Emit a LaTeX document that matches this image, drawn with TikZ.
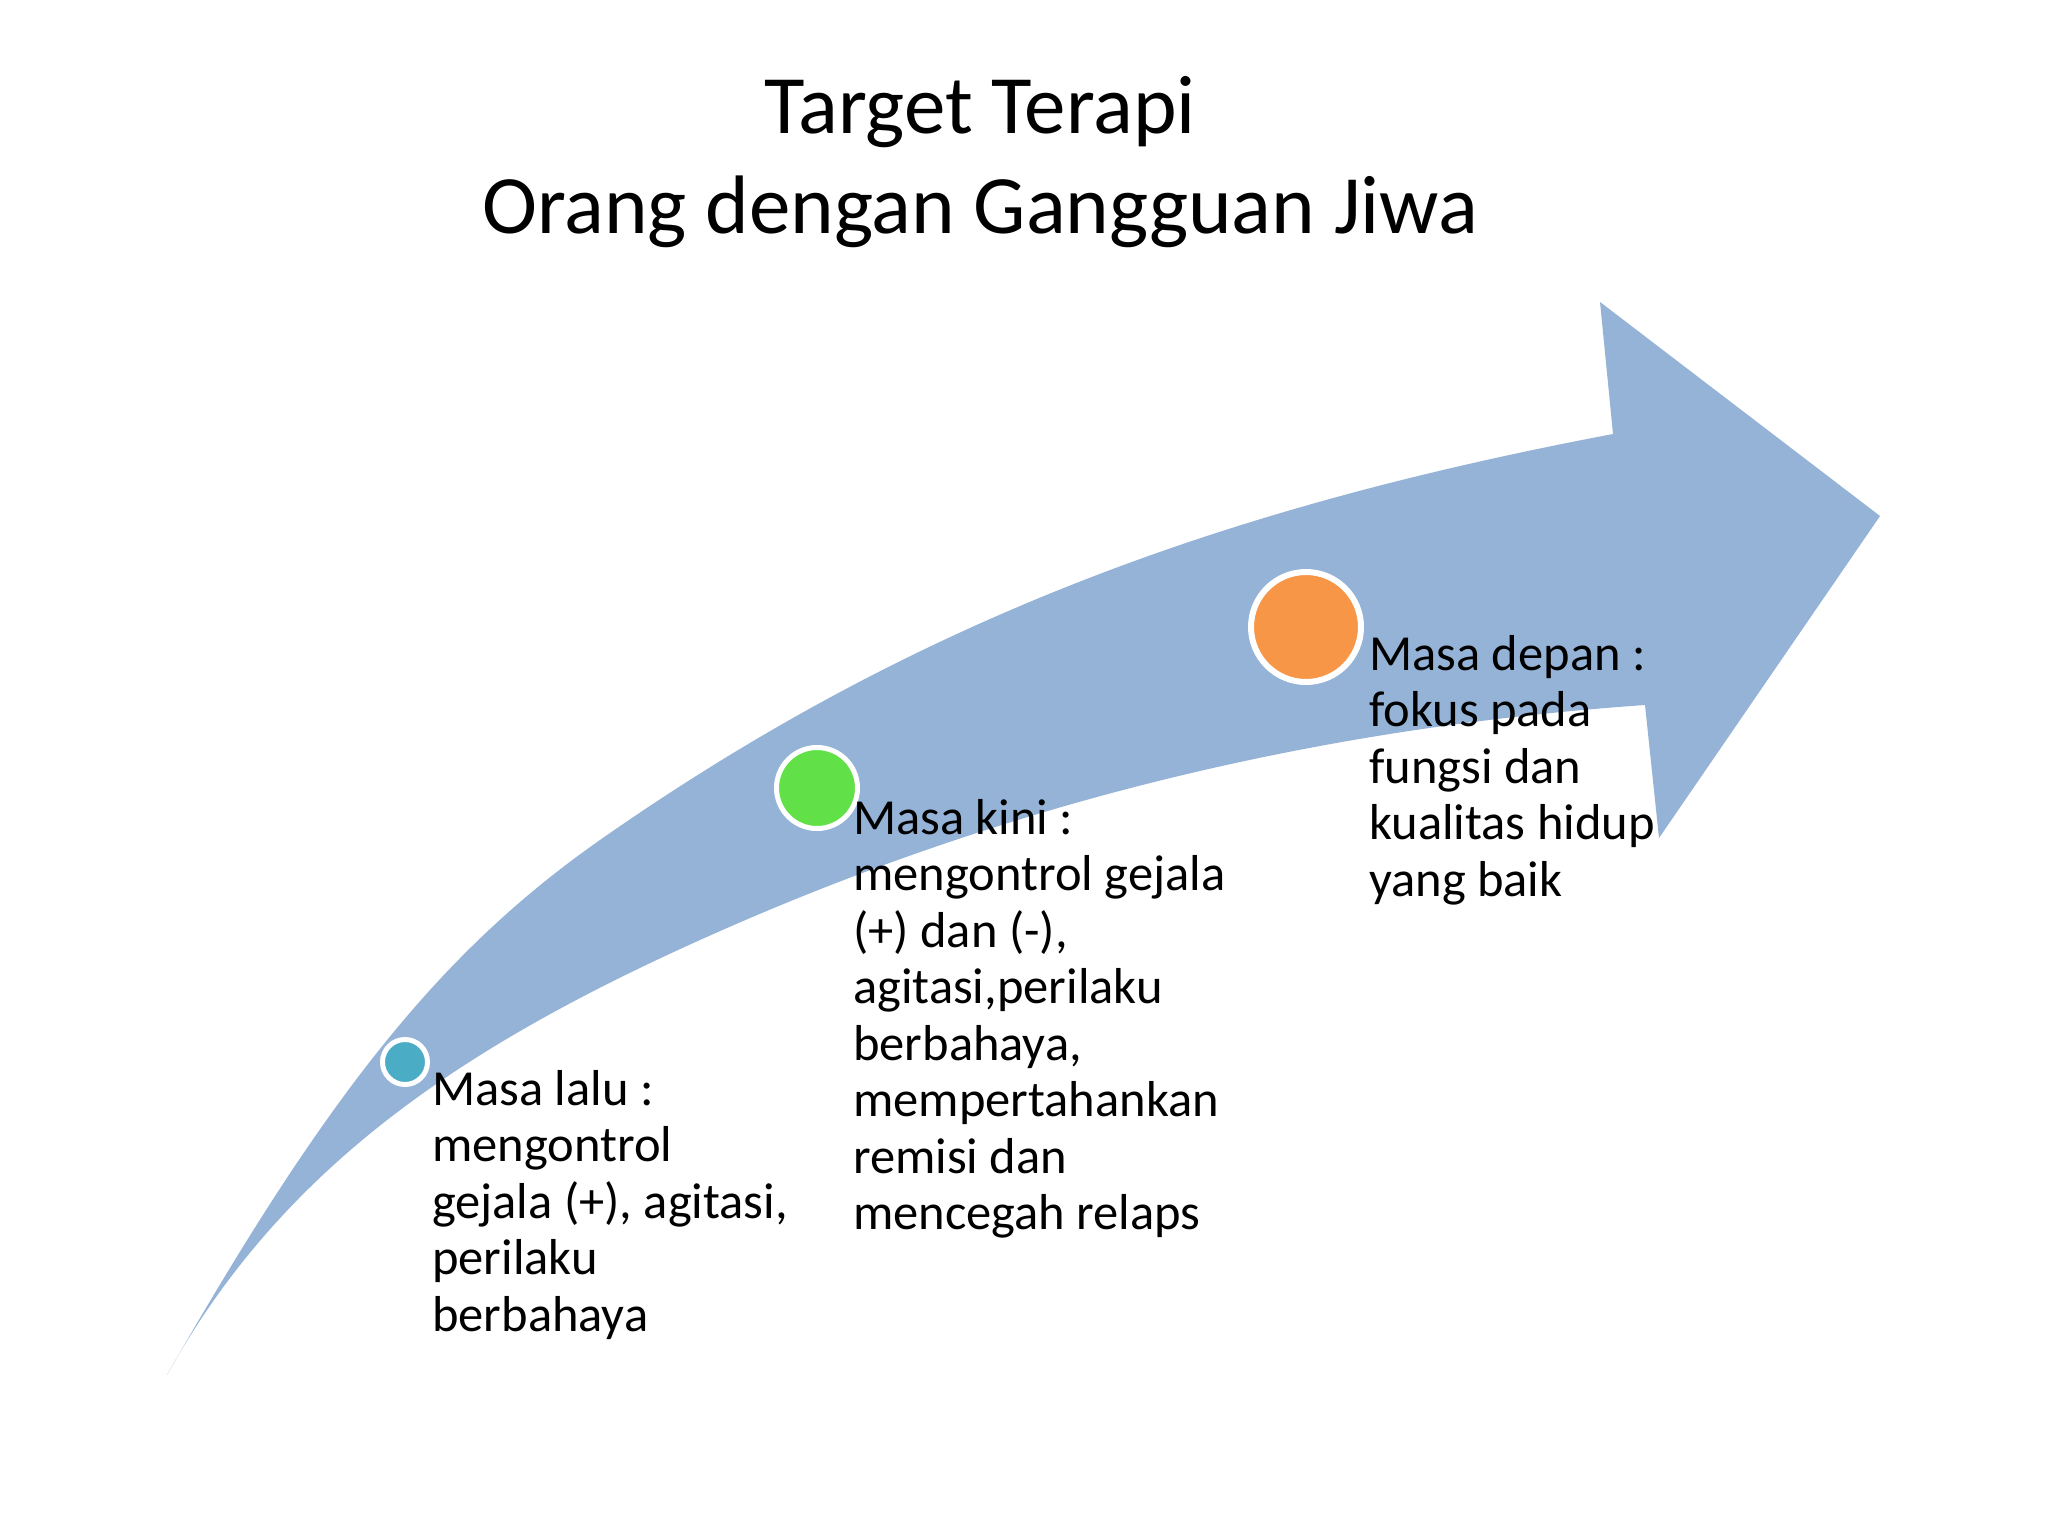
\documentclass[tikz,border=0pt]{standalone}
\usepackage{fontspec}
\setmainfont{Carlito}
\definecolor{arrowblue}{RGB}{149,179,215}
\definecolor{dotaqua}{RGB}{75,172,198}
\definecolor{dotgreen}{RGB}{98,224,72}
\definecolor{dotorange}{RGB}{247,150,70}
\begin{document}
\begin{tikzpicture}[x=1pt,y=-1pt,
  dotnode/.style={circle, draw=white, inner sep=0pt},
  phase/.style={anchor=base west, align=left, inner sep=0pt,
    font=\fontsize{50.5}{56.5}\selectfont},
  heading/.style={anchor=base, align=center, inner sep=0pt,
    font=\fontsize{83}{100}\selectfont}]
\useasboundingbox (0,0) rectangle (2048,1536);
\fill[white] (0,0) rectangle (2048,1536);
% curved arrow
\fill[arrowblue] (167,1375) .. controls (327,1095) and (440,952) .. (600,840)
  .. controls (920,616) and (1233,506) .. (1613,434)
  -- (1600,302) -- (1880,516) -- (1659,838) -- (1645,705)
  .. controls (1330,727) and (1015,798) .. (700,940)
  .. controls (460,1048) and (282,1168) .. (167,1375) -- cycle;
% title (anchor at last baseline)
\node[heading] (title) at (980,233) {Target Terapi\\Orang dengan Gangguan Jiwa};
% dots
\node[dotnode, fill=dotaqua, line width=5pt, minimum size=45pt] (past) at (405,1062) {};
\node[dotnode, fill=dotgreen, line width=5pt, minimum size=81pt] (present) at (817,788) {};
\node[dotnode, fill=dotorange, line width=6pt, minimum size=110pt] (future) at (1306,627) {};
% texts (anchor at last baseline)
\node[phase] (pasttext) at (432,1331) {Masa lalu :\\mengontrol\\gejala (+), agitasi,\\perilaku\\berbahaya};
\node[phase] (presenttext) at (853,1229.5) {Masa kini :\\mengontrol gejala\\(+) dan (-),\\agitasi,perilaku\\berbahaya,\\mempertahankan\\remisi dan\\mencegah relaps};
\node[phase] (futuretext) at (1369,896) {Masa depan :\\fokus pada\\fungsi dan\\kualitas hidup\\yang baik};
\end{tikzpicture}
\end{document}
